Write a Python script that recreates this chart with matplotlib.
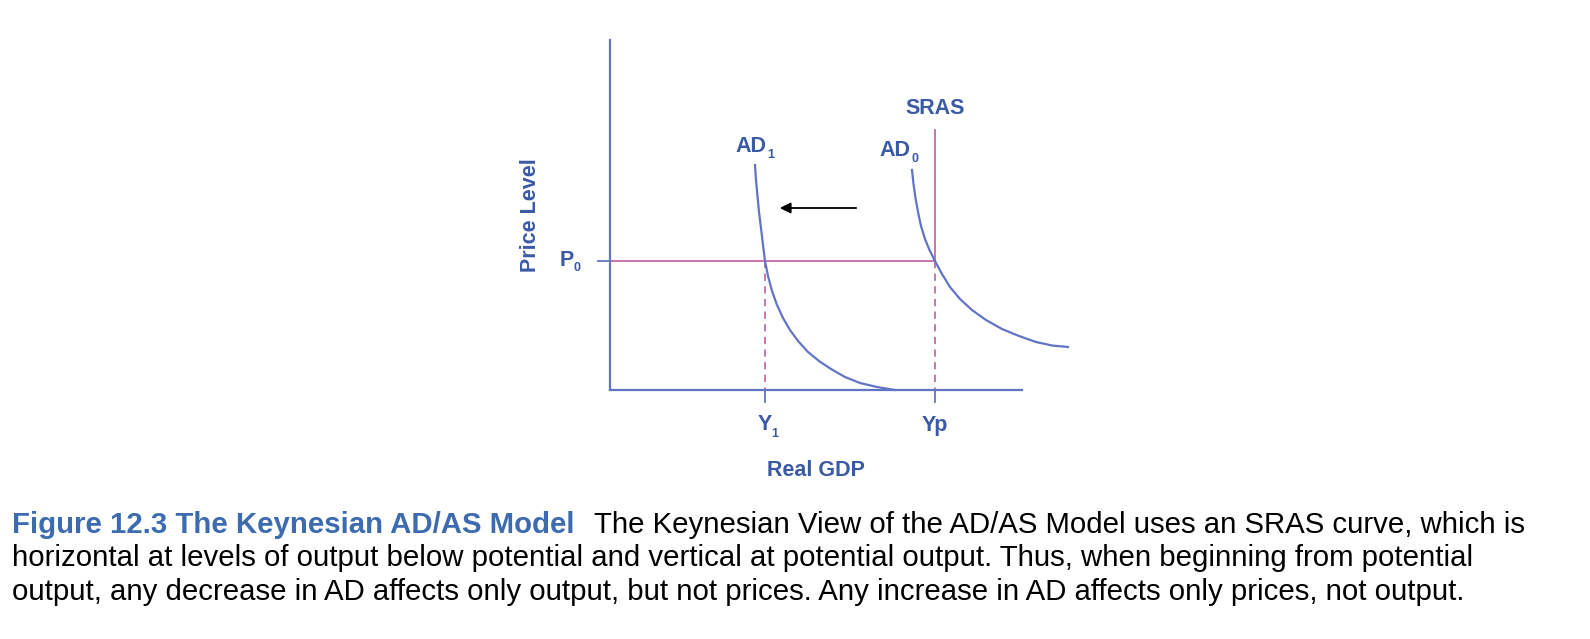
import matplotlib
matplotlib.use("Agg")
import matplotlib.pyplot as plt

plt.rcParams['font.family'] = ['Liberation Sans', 'DejaVu Sans']

# curve points (figure pixel coordinates)
ad1_x = [755, 756, 757.5, 759, 761, 763, 765, 768, 772, 777, 783, 790, 798, 808, 819, 831, 845, 860, 877, 895]
ad1_y = [165, 180, 196, 212, 228, 245, 261, 276, 291, 305, 318, 330, 341, 352, 361, 369, 377, 383, 387, 390]
ad0_x = [912, 913.5, 915.5, 918, 921, 925, 929.5, 935, 942, 950, 960, 972, 986, 1002, 1019, 1036, 1052, 1068]
ad0_y = [170, 184, 198, 212, 226, 239, 250, 261, 274, 287, 299, 310, 320, 329, 336, 342, 345.5, 347]
p0_y = 261
y1_x = 765
yp_x = 935
sras_top = 130

BLUE = '#6275c4'
PINK = '#c46aa8'
TXT = '#3b5aa5'

fig = plt.figure(figsize=(15.9, 6.39), dpi=100)
ax = fig.add_axes([0, 0, 1, 1])
ax.set_xlim(0, 1590)
ax.set_ylim(639, 0)
ax.axis('off')

ax.plot([610, 610], [40, 390], color=BLUE, lw=1.6)
ax.plot([610, 1022], [390, 390], color=BLUE, lw=1.6)
ax.plot([610, yp_x], [p0_y, p0_y], color=PINK, lw=1.3)
ax.plot([yp_x, yp_x], [sras_top, p0_y], color=PINK, lw=1.3)
ax.plot([yp_x, yp_x], [p0_y, 390], color=PINK, lw=1.3, ls=(0, (4, 3)))
ax.plot([y1_x, y1_x], [p0_y, 390], color=PINK, lw=1.3, ls=(0, (4, 3)))
ax.plot([y1_x, y1_x], [390, 402], color=BLUE, lw=1.3)
ax.plot([yp_x, yp_x], [390, 402], color=BLUE, lw=1.3)
ax.plot([598, 610], [p0_y, p0_y], color=BLUE, lw=1.3)
ax.plot(ad1_x, ad1_y, color=BLUE, lw=1.6)
ax.plot(ad0_x, ad0_y, color=BLUE, lw=1.6)
ax.annotate('', xy=(777, 208), xytext=(859, 208),
            arrowprops=dict(arrowstyle='-|>', color='black', lw=1.3, mutation_scale=16))

lab = dict(color=TXT, fontsize=15.5, fontweight='bold')
sub = dict(color=TXT, fontsize=9, fontweight='bold')
ax.text(530, 215, 'Price Level', rotation=90, ha='center', va='center', **lab)
ax.text(560, 261, 'P', ha='left', va='center', **lab)
ax.text(574, 268, '0', ha='left', va='center', **sub)
ax.text(935, 108, 'SRAS', ha='center', va='center', **lab)
ax.text(735, 146, 'AD', ha='left', va='center', **lab)
ax.text(767, 155, '1', ha='left', va='center', **sub)
ax.text(879, 150, 'AD', ha='left', va='center', **lab)
ax.text(911, 159, '0', ha='left', va='center', **sub)
ax.text(758, 424, 'Y', ha='left', va='center', **lab)
ax.text(771, 434, '1', ha='left', va='center', **sub)
ax.text(935, 425, 'Yp', ha='center', va='center', **lab)
ax.text(816, 470, 'Real GDP', ha='center', va='center', **lab)

cap = dict(fontsize=21.2, va='center', ha='left')
t = ax.text(12, 525, 'Figure 12.3 The Keynesian AD/AS Model', color='#3c6bb0',
            fontweight='bold', **cap)
ax.annotate('The Keynesian View of the AD/AS Model uses an SRAS curve, which is',
            xy=(1, 0.5), xycoords=t, xytext=(20, 0), textcoords='offset pixels',
            color='black', **cap)
ax.text(12, 558, 'horizontal at levels of output below potential and vertical at potential output. Thus, when beginning from potential',
        color='black', **cap)
ax.text(12, 592, 'output, any decrease in AD affects only output, but not prices. Any increase in AD affects only prices, not output.',
        color='black', **cap)

fig.savefig('out.png', dpi=100, facecolor='white')
